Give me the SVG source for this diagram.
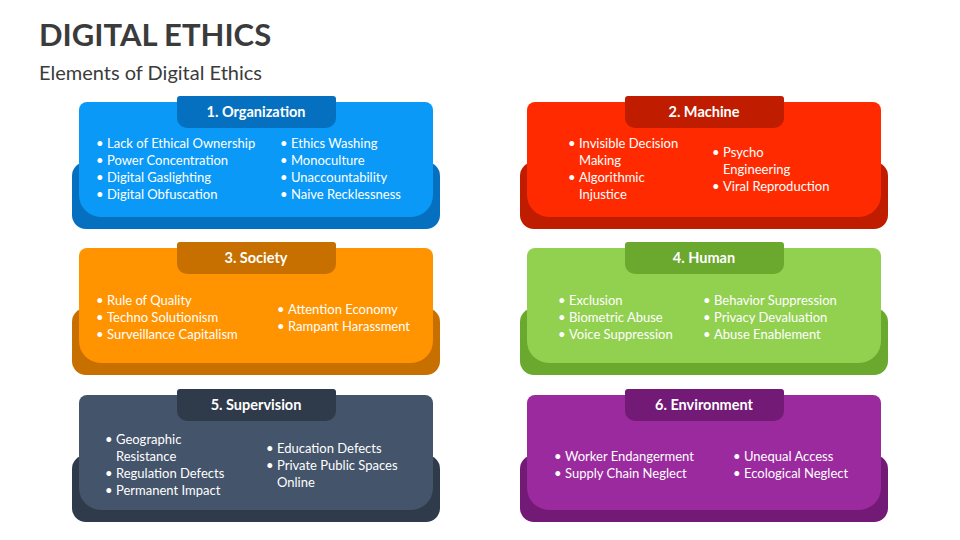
<svg xmlns="http://www.w3.org/2000/svg" width="960" height="540" viewBox="0 0 960 540">
<style>
text{font-family:Lato,"Open Sans",sans-serif;fill:#fff}
.t{font-size:13px;}
.h{font-size:14.5px;font-weight:bold;text-anchor:middle}
.b{font-size:14px}
</style>
<defs>
<path id="lt" d="M8,0 H346 A8 8 0 0 1 354 8 V93 A22 22 0 0 1 332 115 H22 A22 22 0 0 1 0 93 V8 A8 8 0 0 1 8 0Z"/>
<rect id="dk" x="-7" y="60" width="368" height="67" rx="14"/>
<path id="tb" d="M101,-6 H254 A3 3 0 0 1 257 -3 V16 A10 10 0 0 1 247 26 H108 A10 10 0 0 1 98 16 V-3 A3 3 0 0 1 101 -6Z"/>
</defs>
<rect width="960" height="540" fill="#fff"/>
<text x="39" y="46" style="font-family:Lato,sans-serif;font-size:31px;font-weight:bold;fill:#3b3b3b">DIGITAL ETHICS</text>
<text x="39" y="80" style="font-family:Lato,sans-serif;font-size:20px;fill:#3b3b3b">Elements of Digital Ethics</text>

<g id="organization" transform="translate(79,102)">
<use href="#dk" fill="#0670C0"/><use href="#lt" fill="#0A99F7"/><use href="#tb" fill="#0670C0"/>
<text class="h" x="177" y="15">1. Organization</text>
<g class="t"><text x="17" y="46">•</text><text x="28" y="46">Lack of Ethical Ownership</text>
<text x="17" y="63">•</text><text x="28" y="63">Power Concentration</text>
<text x="17" y="80">•</text><text x="28" y="80">Digital Gaslighting</text>
<text x="17" y="97">•</text><text x="28" y="97">Digital Obfuscation</text>
<text x="201" y="46">•</text><text x="212" y="46">Ethics Washing</text>
<text x="201" y="63">•</text><text x="212" y="63">Monoculture</text>
<text x="201" y="80">•</text><text x="212" y="80">Unaccountability</text>
<text x="201" y="97">•</text><text x="212" y="97">Naive Recklessness</text></g>
</g>

<g id="machine" transform="translate(527,102)">
<use href="#dk" fill="#C01C00"/><use href="#lt" fill="#FF2A00"/><use href="#tb" fill="#C01C00"/>
<text class="h" x="177" y="15">2. Machine</text>
<g class="t"><text x="41" y="46">•</text><text x="52" y="46">Invisible Decision</text>
<text x="52" y="63">Making</text>
<text x="41" y="80">•</text><text x="52" y="80">Algorithmic</text>
<text x="52" y="97">Injustice</text>
<text x="185" y="55">•</text><text x="196" y="55">Psycho</text>
<text x="196" y="72">Engineering</text>
<text x="185" y="89">•</text><text x="196" y="89">Viral Reproduction</text></g>
</g>

<g id="society" transform="translate(79,248)">
<use href="#dk" fill="#C77000"/><use href="#lt" fill="#FF9300"/><use href="#tb" fill="#C77000"/>
<text class="h" x="177" y="15">3. Society</text>
<g class="t"><text x="17" y="57">•</text><text x="28" y="57">Rule of Quality</text>
<text x="17" y="74">•</text><text x="28" y="74">Techno Solutionism</text>
<text x="17" y="91">•</text><text x="28" y="91">Surveillance Capitalism</text>
<text x="198" y="66">•</text><text x="209" y="66">Attention Economy</text>
<text x="198" y="83">•</text><text x="209" y="83">Rampant Harassment</text></g>
</g>

<g id="human" transform="translate(527,248)">
<use href="#dk" fill="#6AA82E"/><use href="#lt" fill="#92D050"/><use href="#tb" fill="#6AA82E"/>
<text class="h" x="177" y="15">4. Human</text>
<g class="t"><text x="31" y="57">•</text><text x="42" y="57">Exclusion</text>
<text x="31" y="74">•</text><text x="42" y="74">Biometric Abuse</text>
<text x="31" y="91">•</text><text x="42" y="91">Voice Suppression</text>
<text x="176" y="57">•</text><text x="187" y="57">Behavior Suppression</text>
<text x="176" y="74">•</text><text x="187" y="74">Privacy Devaluation</text>
<text x="176" y="91">•</text><text x="187" y="91">Abuse Enablement</text></g>
</g>

<g id="supervision" transform="translate(79,395)">
<use href="#dk" fill="#2F3B4B"/><use href="#lt" fill="#44546A"/><use href="#tb" fill="#2F3B4B"/>
<text class="h" x="177" y="15">5. Supervision</text>
<g class="t"><text x="26" y="49">•</text><text x="37" y="49">Geographic</text>
<text x="37" y="66">Resistance</text>
<text x="26" y="83">•</text><text x="37" y="83">Regulation Defects</text>
<text x="26" y="100">•</text><text x="37" y="100">Permanent Impact</text>
<text x="187" y="58">•</text><text x="198" y="58">Education Defects</text>
<text x="187" y="75">•</text><text x="198" y="75">Private Public Spaces</text>
<text x="198" y="92">Online</text></g>
</g>

<g id="environment" transform="translate(527,395)">
<use href="#dk" fill="#721A76"/><use href="#lt" fill="#9A2A9E"/><use href="#tb" fill="#721A76"/>
<text class="h" x="177" y="15">6. Environment</text>
<g class="t"><text x="27" y="66">•</text><text x="38" y="66">Worker Endangerment</text>
<text x="27" y="83">•</text><text x="38" y="83">Supply Chain Neglect</text>
<text x="206" y="66">•</text><text x="217" y="66">Unequal Access</text>
<text x="206" y="83">•</text><text x="217" y="83">Ecological Neglect</text></g>
</g>
<g id="connectors"/>
</svg>
